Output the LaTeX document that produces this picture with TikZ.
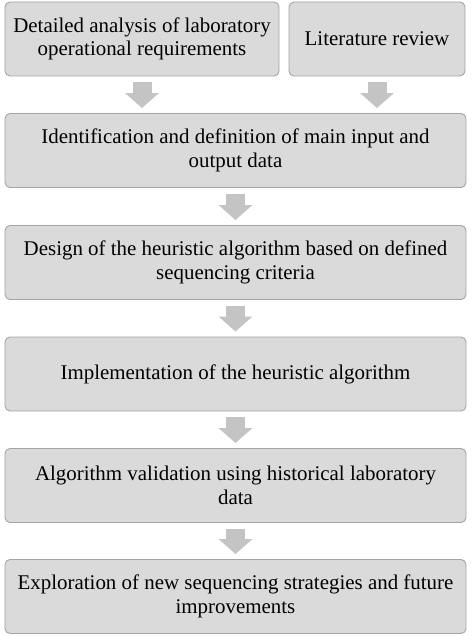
\documentclass[tikz,border=0pt]{standalone}
\usepackage{fontspec}
\setmainfont{Liberation Serif}
\usetikzlibrary{arrows.meta}
\definecolor{boxfill}{HTML}{DADADA}
\definecolor{boxline}{HTML}{A4A4A4}
\definecolor{arrowgray}{HTML}{C4C4C4}
\begin{document}
\begin{tikzpicture}[x=1bp,y=-1bp,
  stagebox/.style={draw=boxline, fill=boxfill, line width=0.9bp, rounded corners=5bp,
    minimum height=74bp, inner sep=2bp, align=center, text=black,
    font=\fontsize{21}{23.5}\selectfont},
  blockarrow/.style={draw=arrowgray, line width=19bp, shorten <=6bp, shorten >=5bp,
    -{Triangle[width=33bp,length=15bp]}}]
\useasboundingbox (0,0) rectangle (474,636);
\node[stagebox, minimum width=274bp] (b1) at (142,39) {Detailed analysis of laboratory\\operational requirements};
\node[stagebox, minimum width=176bp] (b2) at (377,39) {Literature review};
\node[stagebox, minimum width=461bp] (b3) at (235.5,150.5) {Identification and definition of main input and\\output data};
\node[stagebox, minimum width=461bp] (b4) at (235.5,262.5) {Design of the heuristic algorithm based on defined\\sequencing criteria};
\node[stagebox, minimum width=461bp] (b5) at (235.5,374) {Implementation of the heuristic algorithm};
\node[stagebox, minimum width=461bp] (b6) at (235.5,485.5) {Algorithm validation using historical laboratory\\data};
\node[stagebox, minimum width=461bp] (b7) at (235.5,596.5) {Exploration of new sequencing strategies and future\\improvements};
\draw[blockarrow] (b1.south) -- (b1.south |- b3.north);
\draw[blockarrow] (b2.south) -- (b2.south |- b3.north);
\draw[blockarrow] (b3.south) -- (b4.north);
\draw[blockarrow] (b4.south) -- (b5.north);
\draw[blockarrow] (b5.south) -- (b6.north);
\draw[blockarrow] (b6.south) -- (b7.north);
\end{tikzpicture}
\end{document}
